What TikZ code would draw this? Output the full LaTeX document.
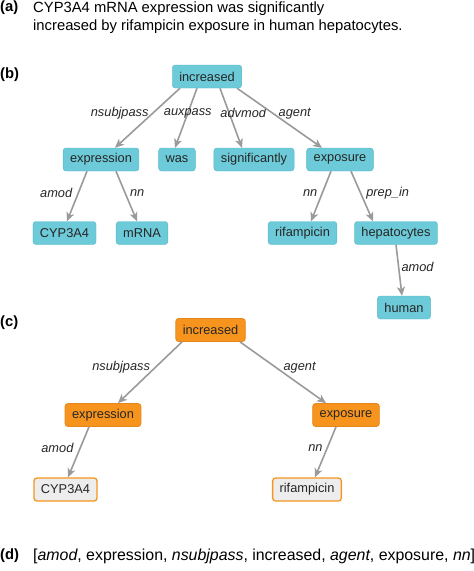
\documentclass[tikz,border=0pt]{standalone}
\usepackage{fontspec}
\setmainfont{Liberation Sans}
\usetikzlibrary{arrows.meta}
\definecolor{cyanfill}{HTML}{6DCAD8}
\definecolor{cyanline}{HTML}{56B9C9}
\definecolor{orfill}{HTML}{F7941D}
\definecolor{orline}{HTML}{E4871C}
\definecolor{greyfill}{HTML}{EDEDED}
\definecolor{edgegrey}{HTML}{9A9A9A}
\begin{document}
\begin{tikzpicture}[x=1pt,y=-1pt,
  word/.style={draw=cyanline,fill=cyanfill,rounded corners=3pt,minimum height=23pt,
    inner xsep=7pt,inner ysep=0pt,text=black!85,font=\fontsize{12.8}{15}\selectfont},
  kept/.style={word,draw=orline,fill=orfill,line width=0.8pt},
  leaf/.style={kept,draw=orfill,fill=greyfill,line width=1.3pt},
  dep/.style={draw=edgegrey,line width=1.6pt,-{Stealth[length=9pt,width=8pt,inset=2.5pt]}},
  rel/.style={font=\fontsize{12.8}{15}\selectfont\itshape,text=black!85,inner sep=0pt},
  tag/.style={anchor=west,inner sep=0pt,font=\fontsize{14.8}{18}\selectfont\bfseries}]
\useasboundingbox(0,0)rectangle(474,571);
% (a) the sentence
\node[tag](ta)at(0,8){(a)};
\node[anchor=north west,align=left,inner sep=0pt,font=\fontsize{14.8}{18}\selectfont](sent)at(33,2)
  {CYP3A4 mRNA expression was significantly\\increased by rifampicin exposure in human hepatocytes.};
% (b) full dependency tree
\node[tag](tb)at(0,75){(b)};
\node[word](inc)at(207,76.5){increased};
\node[word](expr)at(101,159.5){expression};
\node[word](was)at(177,159.5){was};
\node[word](sig)at(254,159.5){significantly};
\node[word](expo)at(340,159.5){exposure};
\node[word](cyp)at(64.5,233){CYP3A4};
\node[word](mrna)at(142,233){mRNA};
\node[word](rif)at(302.5,233){rifampicin};
\node[word](hep)at(396,233){hepatocytes};
\node[word](hum)at(404,307.5){human};
\draw[dep]([xshift=-27]inc.south)--node[rel,pos=.42,xshift=-33]{nsubjpass}([xshift=14]expr.north);
\draw[dep]([xshift=-10]inc.south)--node[rel,pos=.42]{auxpass}([xshift=-2]was.north);
\draw[dep]([xshift=13]inc.south)--node[rel,pos=.42,xshift=14]{advmod}([xshift=-12]sig.north);
\draw[dep]([xshift=30]inc.south)--node[rel,pos=.42,xshift=22]{agent}([xshift=-18]expo.north);
\draw[dep]([xshift=-14]expr.south)--node[rel,pos=.44,xshift=-22]{amod}([xshift=2.5]cyp.north);
\draw[dep]([xshift=15]expr.south)--node[rel,pos=.44,xshift=12]{nn}([xshift=-5]mrna.north);
\draw[dep]([xshift=-9]expo.south)--node[rel,pos=.44,xshift=-12]{nn}([xshift=8.5]rif.north);
\draw[dep]([xshift=11]expo.south)--node[rel,pos=.44,xshift=27]{prep\_in}([xshift=-23]hep.north);
\draw[dep](hep.south)--node[rel,pos=.43,xshift=19]{amod}([xshift=-2]hum.north);
% (c) shortest path
\node[tag](tc)at(0,323){(c)};
\node[kept](inc2)at(210.5,330){increased};
\node[kept](expr2)at(103,415){expression};
\node[kept](expo2)at(346,415){exposure};
\node[leaf](cyp2)at(65.5,489.5){CYP3A4};
\node[leaf](rif2)at(307,489.5){rifampicin};
\draw[dep]([xshift=-28.5]inc2.south)--node[rel,pos=.42,xshift=-34]{nsubjpass}([xshift=15]expr2.north);
\draw[dep]([xshift=29.5]inc2.south)--node[rel,pos=.42,xshift=23.5]{agent}([xshift=-20]expo2.north);
\draw[dep]([xshift=-14]expr2.south)--node[rel,pos=.41,xshift=-23]{amod}([xshift=2.5]cyp2.north);
\draw[dep]([xshift=-10]expo2.south)--node[rel,pos=.41,xshift=-12]{nn}([xshift=8]rif2.north);
% (d) sequence
\node[tag](td)at(0,556){(d)};
\node[anchor=west,inner sep=0pt,font=\fontsize{15.9}{18}\selectfont](seq)at(33,556)
  {[\textit{amod}, expression, \textit{nsubjpass}, increased, \textit{agent}, exposure, \textit{nn}]};
\end{tikzpicture}
\end{document}
